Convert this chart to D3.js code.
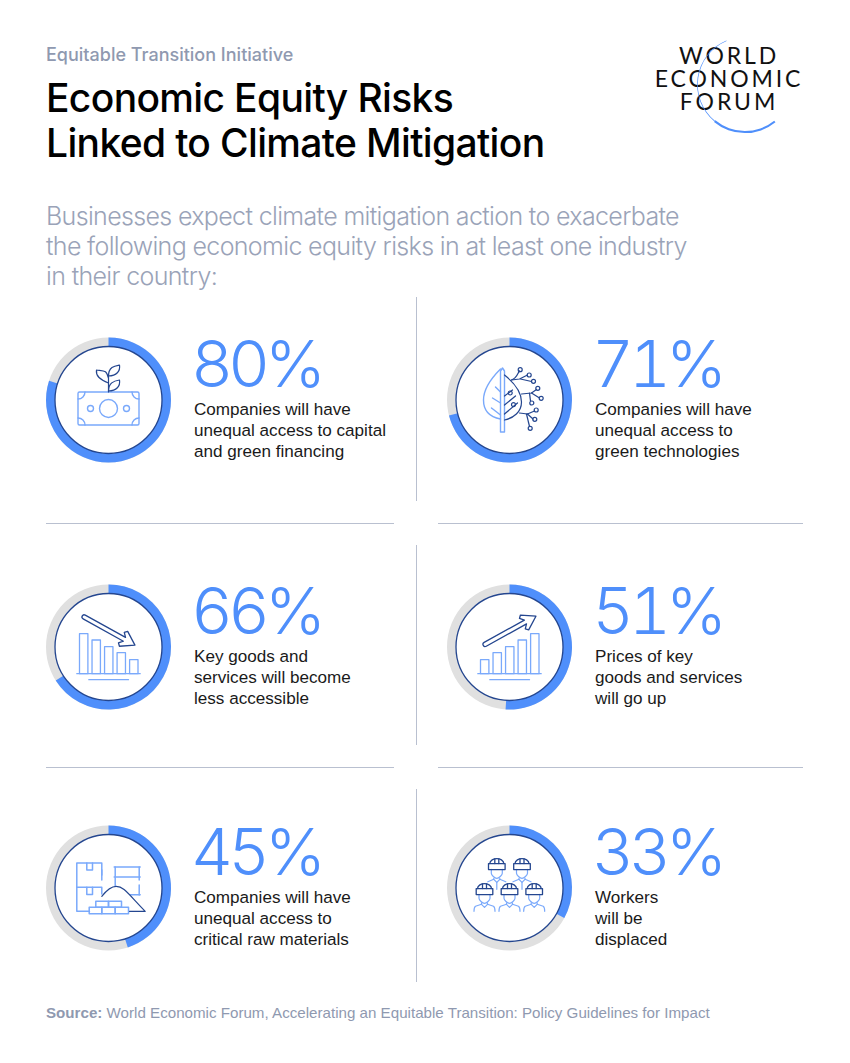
<!DOCTYPE html>
<html>
<head>
<meta charset="utf-8">
<script src="https://cdn.jsdelivr.net/npm/d3@7"></script>
<style>
  html, body { margin: 0; background: #fff; }
  text { font-family: "Liberation Sans", Arial, sans-serif; }
  .light { font-family: Inter, "Liberation Sans", sans-serif; font-weight: 300; }
</style>
</head>
<body>
<svg id="plot" width="850" height="1063"></svg>
<script>
const values = [80, 71, 66, 51, 45, 33];
const captions = [
  ['Companies will have', 'unequal access to capital', 'and green financing'],
  ['Companies will have', 'unequal access to', 'green technologies'],
  ['Key goods and', 'services will become', 'less accessible'],
  ['Prices of key', 'goods and services', 'will go up'],
  ['Companies will have', 'unequal access to', 'critical raw materials'],
  ['Workers', 'will be', 'displaced']
];
const subtitleLines = [
  'Businesses expect climate mitigation action to exacerbate',
  'the following economic equity risks in at least one industry',
  'in their country:'
];
const titleLines = ['Economic Equity Risks', 'Linked to Climate Mitigation'];
const logoLines = ['WORLD', 'ECONOMIC', 'FORUM'];

const blue = '#4f8ffb', light = '#7aa9fb', navy = '#24468f', grey = '#e0e0e0', rule = '#b9c0d0', slate = '#8f99b0';

const plot = d3.select('#plot');
const colX = d3.scaleOrdinal([0, 1], [108.5, 509.5]);
const rowY = d3.scaleOrdinal([0, 1, 2], [400, 647, 888]);

const angle = d3.scaleLinear().domain([0, 100]).range([0, 2 * Math.PI]);
const ringArc = d3.arc().innerRadius(53.5).outerRadius(62.5);

/* header */
plot.append('text').attr('x', 46).attr('y', 61)
  .style('font-size', '18px').style('font-family', 'Inter').style('font-weight', 500).attr('fill', slate)
  .text('Equitable Transition Initiative');

plot.selectAll('.title').data(titleLines).join('text')
  .classed('title', true)
  .attr('x', 46).attr('y', (d, i) => 112 + i * 45)
  .style('font-size', '39px').style('font-family', 'Inter').style('font-weight', 500)
  .style('letter-spacing', '-0.65px')
  .attr('fill', '#000')
  .text(d => d);

plot.selectAll('.sub').data(subtitleLines).join('text')
  .attr('class', 'sub light')
  .attr('x', 46).attr('y', (d, i) => 225 + i * 30)
  .style('font-size', '25px').style('letter-spacing', '-0.65px').attr('fill', '#9aa3b8')
  .text(d => d);

/* logo */
const logo = plot.append('g');
logo.selectAll('text').data(logoLines).join('text')
  .attr('x', 729).attr('y', (d, i) => [63.5, 87, 110][i])
  .attr('text-anchor', 'middle')
  .style('font-family', 'Lato').style('font-size', '23px').style('letter-spacing', '2.9px')
  .attr('fill', '#111')
  .text(d => d);
const logoThin = d3.arc().innerRadius(47.2).outerRadius(47.9).startAngle(-0.4).endAngle(-2.45);
const logoThick = d3.arc().innerRadius(46.5).outerRadius(48.6).startAngle(-2.45).endAngle(-3.82);
logo.append('path').attr('transform', 'translate(745,84.5)').attr('d', logoThin()).attr('fill', blue);
logo.append('path').attr('transform', 'translate(745,84.5)').attr('d', logoThick()).attr('fill', blue);

/* separators */
const vRules = [[297, 501], [545, 745], [789, 982]];
const hRules = [523, 767];
plot.selectAll('.vrule').data(vRules).join('line')
  .attr('x1', 416.5).attr('x2', 416.5).attr('y1', d => d[0]).attr('y2', d => d[1])
  .attr('stroke', rule).attr('stroke-width', 1);
hRules.forEach(y => {
  [[46, 394], [438, 803]].forEach(x => {
    plot.append('line').attr('x1', x[0]).attr('x2', x[1]).attr('y1', y + .5).attr('y2', y + .5)
      .attr('stroke', rule).attr('stroke-width', 1);
  });
});

/* icons, drawn around the ring centre */
function stroke(g, color, w) {
  return g.append('g').attr('fill', 'none').attr('stroke', color).attr('stroke-width', w || 1.2)
    .attr('stroke-linecap', 'round').attr('stroke-linejoin', 'round');
}
function paths(g, list) { list.forEach(d => g.append('path').attr('d', d)); }
function circles(g, list) {
  list.forEach(c => g.append('circle').attr('cx', c[0]).attr('cy', c[1]).attr('r', c[2]));
}

function iconMoney(g) {
  const a = stroke(g, light, 1.4);
  a.append('rect').attr('x', -30.5).attr('y', -8).attr('width', 61).attr('height', 33).attr('rx', 1.5);
  circles(a, [[0, 8.5, 9], [-18, 8.5, 3], [18, 8.5, 3]]);
  paths(a, ['M-30.5,-1A7,7 0 0 0 -23.5,-8', 'M30.5,-1A7,7 0 0 1 23.5,-8', 'M-30.5,18A7,7 0 0 1 -23.5,25', 'M30.5,18A7,7 0 0 0 23.5,25']);
  const b = stroke(g, navy, 1.2);
  paths(b, ['M0,-8V-25',
    'M0,-22C-2,-30 -4,-29 -12,-30C-13,-24 -8,-20 0,-17',
    'M0,-24C0,-33 6,-34 11,-35C12,-29 8,-24 0,-24',
    'M0,-9C0,-17 5,-19 11,-20C12,-14 8,-9 0,-9']);
}

function iconLeaf(g) {
  const a = stroke(g, light, 1.4);
  paths(a, ['M-9,-31C-18,-22 -26,-12 -26,0C-26,11 -20,17 -9,19',
    'M-9,-29V32H-5V-29L-7,-32Z',
    'M-9,-8L-14,-13', 'M-9,3L-17,-2', 'M-9,15L-18,8']);
  const b = stroke(g, navy, 1.2);
  paths(b, ['M-5,-25C5,-17 12,-8 12,2C12,12 4,18 -5,20',
    'M-5,-4L3,-10', 'M-5,5L6,-4', 'M-5,14L8,3',
    'M2,-20C8,-22 8,-27 10,-29', 'M2,-20L10,-21L18,-25', 'M11,-21L22,-18.5',
    'M12,-6L22,-7L27,-10.5', 'M20,-7L21,1', 'M22,-7L30,-2',
    'M10,13L18,14L25,11', 'M18,14L23.5,19', 'M17,14L20,26.5']);
  circles(b, [[10.7, -30.3, 2], [19.7, -25, 2], [24, -18.7, 2], [28.3, -11.7, 2], [31.7, -1.7, 2], [22.3, 3, 2], [26.7, 10, 2], [25.3, 19.3, 2], [20.7, 28.3, 2], [0.7, -7, 2], [4, 4.7, 2]]);
}

function iconBars(g, heights, arrowPos) {
  const xBar = d3.scaleBand().domain(d3.range(heights.length)).range([-29, 29.5]).paddingInner(0.33);
  const a = stroke(g, light, 1.3);
  heights.forEach((h, i) => a.append('rect').attr('x', xBar(i)).attr('y', h).attr('width', xBar.bandwidth()).attr('height', 26.7 - h));
  paths(a, ['M-31.7,26.7H31.7', 'M-19.7,32.7H20']);
  const b = stroke(g, navy, 1.3).attr('transform', arrowPos);
  paths(b, ['M0,-2.2H46L42.5,-6L45,-8.5L58,0L45,8.5L42.5,6L46,2.2H0A2.2,2.2 0 0 1 0,-2.2Z']);
}

function iconMaterials(g) {
  const a = stroke(g, light, 1.5);
  paths(a, ['M-6.7,-8V-25H-31.7V23.3H-19', 'M-31.7,-0.7H-6.7V6', 'M-6.7,-18V-13',
    'M-21.7,-25V-18H-16V-25', 'M-21.7,-0.7V6.5H-16V-0.7',
    'M6.7,-21V-2', 'M30.7,-21V-8', 'M30.7,-3V7', 'M5.7,-21H31.7', 'M5.7,-11H31.7', 'M22,6.7H31.7',
    'M-19.3,19.3H-6.7V25.7H-19.3Z', 'M-6.7,19.3H6.7V25.7H-6.7Z', 'M6.7,19.3H20V25.7H6.7Z',
    'M-12.7,13.3H0V19.3H-12.7Z', 'M0,13.3H13V19.3H0Z']);
  const b = stroke(g, navy, 1.2);
  paths(b, ['M-6.7,8.3C-1,1 3,-1.7 7.7,-1.7C15,-1.7 19,5 36.7,23.3H21']);
}

function iconWorkers(g) {
  const spots = [[-12.7, -22.7], [12.5, -22.7], [-25, 2.3], [0, 2.3], [24.7, 2.3]];
  spots.forEach((s, i) => {
    const w = g.append('g').attr('transform', `translate(${s})`);
    const a = stroke(w, light, 1.2);
    paths(a, ['M-5.5,4V8C-5.5,10 -2,13 0,13C2,13 5.5,10 5.5,8V4']);
    if (i < 2) {
      paths(a, ['M-3,13V14L-9,16.5', 'M3,13V14L9,16.5', 'M-3,14L0,17V24', 'M3,14L0,17']);
    } else {
      paths(a, ['M-3,12.5V14L-9,16C-10.5,17 -10.5,19 -10.5,21', 'M3,12.5V14L9,16C10.5,17 10.5,19 10.5,21', 'M-3,14L0,17L3,14']);
    }
    const b = stroke(w, navy, 1.3);
    paths(b, ['M-7,-1.7C-7,-5 -3,-6.7 0,-6.7C3,-6.7 7,-5 7,-1.7', 'M-8.3,-1.7H8.3V4.3H-8.3Z', 'M-2,-6.5V-1.7', 'M2,-6.5V-1.7']);
  });
}
const icons = [iconMoney, iconLeaf,
  g => iconBars(g, [-13.3, -7, -0.3, 5.7, 12.7], 'translate(-24.3,-30) rotate(29)'),
  g => iconBars(g, [12.7, 5.7, -0.3, -7, -13.3], 'translate(-24.3,-2.7) rotate(-29)'),
  iconMaterials, iconWorkers];

/* the six panels */
values.forEach((v, i) => {
  const col = i % 2, row = Math.floor(i / 2);
  const cx = colX(col), cy = rowY(row);
  const g = plot.append('g').attr('transform', `translate(${cx},${cy})`);

  g.append('path').attr('d', ringArc({ startAngle: 0, endAngle: 2 * Math.PI })).attr('fill', grey);
  g.append('path').attr('d', ringArc({ startAngle: 0, endAngle: angle(v) })).attr('fill', blue);
  g.append('circle').attr('r', 53.5).attr('fill', '#fff').attr('stroke', navy).attr('stroke-width', 1.3);
  icons[i](g);

  plot.append('text').attr('class', 'light')
    .attr('x', cx + 82.5).attr('y', cy - 13.5)
    .style('font-size', '65px').style('letter-spacing', '-5px')
    .style('font-variant-numeric', 'tabular-nums').attr('fill', blue)
    .text(v + '%');

  plot.append('g').selectAll('text').data(captions[i]).join('text')
    .attr('x', cx + 85.5).attr('y', (d, k) => cy + 15 + k * 21.2)
    .style('font-size', '17.1px').attr('fill', '#1a1a1a')
    .text(d => d);
});

/* source */
const src = plot.append('text').attr('x', 46).attr('y', 1018)
  .style('font-size', '15.15px').attr('fill', slate);
src.append('tspan').style('font-weight', 'bold').text('Source: ');
src.append('tspan').text('World Economic Forum, Accelerating an Equitable Transition: Policy Guidelines for Impact');
</script>
</body>
</html>
